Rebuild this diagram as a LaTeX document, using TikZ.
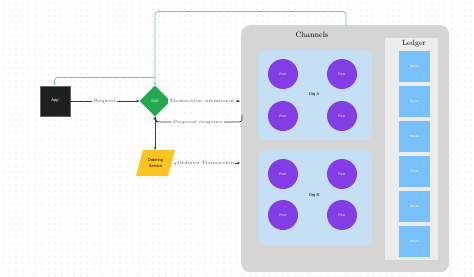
\documentclass[tikz,border=0pt]{standalone}
\usepackage{fontspec}
\newfontfamily\sansf{Liberation Sans}
\usetikzlibrary{arrows.meta,positioning,shapes.geometric}
\definecolor{gridc}{RGB}{212,212,212}
\definecolor{chgray}{RGB}{213,213,213}
\definecolor{ledgray}{RGB}{236,236,236}
\definecolor{orgblue}{RGB}{197,224,245}
\definecolor{blockblue}{RGB}{120,192,250}
\definecolor{peerpurple}{RGB}{132,60,228}
\definecolor{sdkgreen}{RGB}{36,168,80}
\definecolor{ordyellow}{RGB}{252,196,30}
\definecolor{linkgreen}{RGB}{110,200,160}
\definecolor{linkgray}{RGB}{60,60,60}
\tikzset{
  peernode/.style={circle,fill=peerpurple,minimum size=30pt,inner sep=0pt,text=white,font=\sansf\fontsize{3.4}{4}\selectfont},
  blocknode/.style={rectangle,fill=blockblue,minimum width=31pt,minimum height=31pt,inner sep=0pt,text=white,font=\sansf\fontsize{3.2}{4}\selectfont},
  orgbox/.style={rectangle,rounded corners=8pt,fill=orgblue},
  lbl/.style={fill=white,inner sep=1.5pt,font=\fontsize{4.6}{5.5}\selectfont,text=linkgray!90},
  grayarrow/.style={draw=linkgray,line width=0.7pt,-{Stealth[length=3pt,width=2.6pt]}},
  greenarrow/.style={draw=linkgreen,line width=0.8pt,rounded corners=3pt,-{Stealth[length=3pt,width=2.6pt]}},
}
\begin{document}
\begin{tikzpicture}[x=1pt,y=-1pt]
\useasboundingbox (0,0) rectangle (474,276);
\fill[white] (0,0) rectangle (474,276);
% dot grid
\foreach \i in {0,...,72}{\foreach \j in {0,...,42}{\fill[gridc] (3+\i*6.5,3+\j*6.5) circle (0.55pt);}}
% Channels
\node (ch) [rectangle,rounded corners=9pt,fill=chgray,minimum width=208pt,minimum height=247pt,inner sep=0pt,anchor=north west] at (241,25) {};
\node (chl) [font=\fontsize{7.7}{9}\selectfont] at (312,35) {Channels};
% Ledger
\node (led) [rectangle,fill=ledgray,minimum width=53pt,minimum height=222pt,inner sep=0pt,anchor=north west] at (385,38) {};
\node (ledl) [font=\fontsize{7.5}{9}\selectfont] at (414,43.5) {Ledger};
\foreach \k in {0,...,5}{\node (b\k) [blocknode] at (414.5,66.5+\k*35) {Blocks};}
% Orgs
\node (orga) [orgbox,minimum width=114pt,minimum height=90pt,anchor=north west] at (258,50) {};
\node (orgb) [orgbox,minimum width=114pt,minimum height=95pt,anchor=north west] at (258,150) {};
\node (orgal) [font=\sansf\fontsize{4}{5}\selectfont] at (314,95) {Org A};
\node (orgbl) [font=\sansf\fontsize{4}{5}\selectfont] at (314,196) {Org B};
\node (pa1) [peernode] at (283,74) {Peer};
\node (pa2) [peernode] at (342,74) {Peer};
\node (pa3) [peernode] at (283,116) {Peer};
\node (pa4) [peernode] at (342,116) {Peer};
\node (pb1) [peernode] at (283,174) {Peer};
\node (pb2) [peernode] at (342,174) {Peer};
\node (pb3) [peernode] at (283,215) {Peer};
\node (pb4) [peernode] at (342,215) {Peer};
% App
\node (app) [rectangle,fill=black!88,draw=black!60,line width=0.3pt,minimum size=30pt,inner sep=0pt,text=white,font=\sansf\fontsize{4}{5}\selectfont] at (55,101) {App};
% SDK
\node (sdk) [diamond,fill=sdkgreen,minimum size=31pt,inner sep=0pt,text=white,font=\sansf\fontsize{3.6}{4.5}\selectfont] at (155,101) {};
\node (sdkl) [text=white,font=\sansf\fontsize{3.6}{4.5}\selectfont] at (155,101) {SDK};
% Ordering
\fill[ordyellow] (143,150) -- (175,150) -- (168,176) -- (136,176) -- cycle;
\node (ord) [minimum width=32pt,minimum height=26pt,inner sep=0pt,align=center,font=\sansf\fontsize{3.9}{5.5}\selectfont] at (155.5,163) {Ordering\\Service};
% coordinates
\coordinate (chin1) at (240,101);
\coordinate (chin2) at (240,163);
\coordinate (chout) at (242,115);
\coordinate (chtop) at (346,25);
\coordinate (sdktop) at (155,85.5);
\coordinate (sdkbot) at (155,116.5);
\coordinate (apptop) at (54.5,85.5);
% connectors
\draw[grayarrow] (app.east) -- node[lbl]{Request} (sdk.west);
\draw[grayarrow] (sdk.east) -- node[lbl,pos=0.45]{Transaction submission} (chin1);
\draw[grayarrow,rounded corners=3pt] (chout) |- node[lbl,pos=0.76]{Proposal response} (157,122) -- (155.3,120) -- (sdkbot);
\draw[grayarrow] (sdkbot) -- (155,150);
\draw[grayarrow] (175,163) -- node[lbl,pos=0.47]{Ordered Transaction} (chin2);
\draw[greenarrow] (chtop) |- (155,11.5) -- (sdktop);
\draw[greenarrow] (155,77.5) -| (apptop);
\end{tikzpicture}
\end{document}
